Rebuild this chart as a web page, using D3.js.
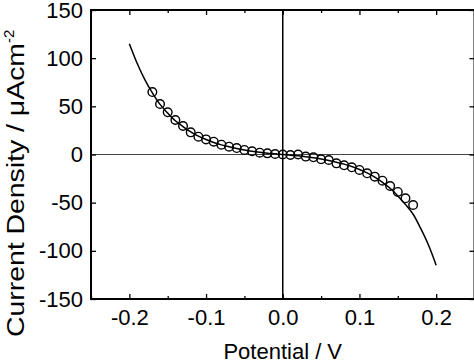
<!DOCTYPE html>
<meta charset="utf-8">
<script src="https://d3js.org/d3.v7.min.js"></script>
<style>
  body { margin: 0; background: #fff; }
  text { font-family: "Liberation Sans", Arial, sans-serif; fill: #000; }
</style>
<div id="chart"></div>
<script>
    // measured points (circles)
    const measV = [-0.17,-0.16,-0.15,-0.14,-0.13,-0.12,-0.11,-0.10,-0.09,-0.08,-0.07,-0.06,-0.05,-0.04,-0.03,-0.02,-0.01,
                   0,0.01,0.02,0.03,0.04,0.05,0.06,0.07,0.08,0.09,0.10,0.11,0.12,0.13,0.14,0.15,0.16,0.17]
    const measI = [64.8,52.4,43.8,35.8,29.6,23,18.5,15.7,13.3,10.2,8.1,6.7,4.7,3.3,1.9,1.2,0.5,
                   0,-0.5,0,-2.2,-2.9,-5,-5.7,-9.2,-11.2,-13.3,-16,-19.5,-23,-27.2,-32.7,-38.9,-45.5,-52.4]

    // fitted curve (line)
    const fitV = [-0.20,-0.19,-0.18,-0.17,-0.16,-0.15,-0.14,-0.13,-0.12,-0.11,-0.10,-0.09,-0.08,-0.07,-0.06,-0.05,-0.04,-0.03,-0.02,-0.01,
                  0,0.01,0.02,0.03,0.04,0.05,0.06,0.07,0.08,0.09,0.10,0.11,0.12,0.13,0.14,0.15,0.16,0.17,0.18,0.19,0.20]
    const fitI = [115,95,78,64,52,43,35,29,23.5,19,15.5,12.5,10,8,6.2,4.7,3.4,2.3,1.4,0.7,
                  0,-0.7,-1.4,-2.3,-3.4,-4.7,-6.2,-8,-10,-12.5,-15.5,-19,-23.5,-29,-35,-43,-52,-62,-77,-94,-115]

    const xTicks = [-0.2,-0.1,0.0,0.1,0.2]
    const xMinor = [-0.25,-0.15,-0.05,0.05,0.15,0.25]
    const yTicks = [-150,-100,-50,0,50,100,150]

    const W = 474, H = 362
    const margin = {top: 10, right: 0, bottom: 63, left: 91}

    const svg = d3.select("#chart")
      .append("svg")
        .attr("width", W)
        .attr("height", H)

    const x = d3.scaleLinear()
        .domain([-0.25, 0.25])
        .range([margin.left, W + 0.5])
    const y = d3.scaleLinear()
        .domain([-150, 150])
        .range([H - margin.bottom, margin.top])

    // zero lines
    svg.append("line")
        .attr("x1", x(-0.25)).attr("x2", x(0.25))
        .attr("y1", y(0)).attr("y2", y(0))
        .attr("stroke", "#444").attr("stroke-width", 1)
    svg.append("line")
        .attr("x1", x(0)).attr("x2", x(0))
        .attr("y1", y(150)).attr("y2", y(-150))
        .attr("stroke", "#000").attr("stroke-width", 1.5)

    // axes with inward ticks
    const fmtX = d => d3.format(".1f")(d).replace("\u2212", "-")
    const fmtY = d => String(d)
    svg.append("g")
        .attr("transform", `translate(0,${y(-150)})`)
        .call(d3.axisBottom(x).tickValues(xTicks).tickFormat(fmtX).tickSizeInner(-5).tickSizeOuter(0).tickPadding(10))
    svg.append("g")
        .attr("transform", `translate(0,${y(-150)})`)
        .call(d3.axisBottom(x).tickValues(xMinor).tickFormat("").tickSizeInner(-3).tickSizeOuter(0))
    svg.append("g")
        .attr("transform", `translate(0,${y(150)})`)
        .call(d3.axisTop(x).tickValues(xTicks).tickFormat("").tickSizeInner(-5).tickSizeOuter(0))
    svg.append("g")
        .attr("transform", `translate(0,${y(150)})`)
        .call(d3.axisTop(x).tickValues(xMinor).tickFormat("").tickSizeInner(-3).tickSizeOuter(0))
    svg.append("g")
        .attr("transform", `translate(${x(-0.25)},0)`)
        .call(d3.axisLeft(y).tickValues(yTicks).tickFormat(fmtY).tickSizeInner(-5).tickSizeOuter(0).tickPadding(8))
    svg.append("g")
        .attr("transform", `translate(${x(0.25)},0)`)
        .call(d3.axisRight(y).tickValues(yTicks).tickFormat("").tickSizeInner(-5).tickSizeOuter(0))

    svg.selectAll(".domain").remove()
    svg.selectAll(".tick line").attr("stroke", "#000").attr("stroke-width", 1.3)
    svg.selectAll(".tick text")
        .style("font-family", "'Liberation Sans', Arial, sans-serif")
        .style("font-size", "22px")

    // frame
    svg.append("rect")
        .attr("x", x(-0.25)).attr("y", y(150))
        .attr("width", x(0.25) - x(-0.25))
        .attr("height", y(-150) - y(150))
        .attr("fill", "none").attr("stroke", "#000").attr("stroke-width", 2)

    // fitted line
    const pts = fitV.map((v, i) => [v, fitI[i]])
    svg.append("path")
        .datum(pts)
        .attr("fill", "none")
        .attr("stroke", "#000")
        .attr("stroke-width", 1.5)
        .attr("d", d3.line()
            .curve(d3.curveCatmullRom)
            .x(d => x(d[0]))
            .y(d => y(d[1])))

    // measured circles
    svg.selectAll("circle.m")
        .data(measV.map((v, i) => [v, measI[i]]))
        .join("circle")
          .attr("class", "m")
          .attr("cx", d => x(d[0]))
          .attr("cy", d => y(d[1]))
          .attr("r", 4.3)
          .attr("fill", "none")
          .attr("stroke", "#000")
          .attr("stroke-width", 1.4)

    // titles
    svg.append("text")
        .attr("x", (x(-0.25) + x(0.25)) / 2)
        .attr("y", 359)
        .attr("text-anchor", "middle")
        .style("font-size", "22px")
        .text("Potential / V")

    const yt = svg.append("text")
        .attr("transform", `translate(24,337) rotate(-90)`)
        .attr("text-anchor", "start")
        .style("font-size", "23px")
    yt.append("tspan")
        .attr("textLength", 294)
        .attr("lengthAdjust", "spacingAndGlyphs")
        .text("Current Density / \u03bcAcm")
    yt.append("tspan").attr("dy", -10).style("font-size", "15px").text("-2")
</script>
